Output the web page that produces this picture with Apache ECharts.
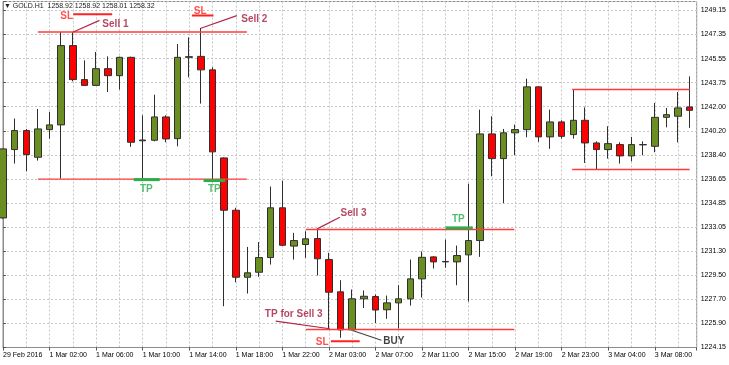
<!DOCTYPE html>
<html><head><meta charset="utf-8">
<script src="https://cdn.jsdelivr.net/npm/echarts@6/dist/echarts.min.js"></script>
<style>html,body{margin:0;padding:0;background:#fff}#c{width:729px;height:365px}</style>
</head><body><div id="c"></div>
<script>
// ---------- data ----------
const categories = ['29 Feb 2016','29 Feb 23:00','1 Mar 00:00','1 Mar 01:00','1 Mar 02:00','1 Mar 03:00','1 Mar 04:00','1 Mar 05:00','1 Mar 06:00','1 Mar 07:00',
  '1 Mar 08:00','1 Mar 09:00','1 Mar 10:00','1 Mar 11:00','1 Mar 12:00','1 Mar 13:00','1 Mar 14:00','1 Mar 15:00','1 Mar 16:00','1 Mar 17:00',
  '1 Mar 18:00','1 Mar 19:00','1 Mar 20:00','1 Mar 21:00','1 Mar 22:00','2 Mar 00:00','2 Mar 01:00','2 Mar 02:00','2 Mar 03:00','2 Mar 04:00',
  '2 Mar 05:00','2 Mar 06:00','2 Mar 07:00','2 Mar 08:00','2 Mar 09:00','2 Mar 10:00','2 Mar 11:00','2 Mar 12:00','2 Mar 13:00','2 Mar 14:00',
  '2 Mar 15:00','2 Mar 16:00','2 Mar 17:00','2 Mar 18:00','2 Mar 19:00','2 Mar 20:00','2 Mar 21:00','2 Mar 22:00','2 Mar 23:00','3 Mar 01:00',
  '3 Mar 02:00','3 Mar 03:00','3 Mar 04:00','3 Mar 05:00','3 Mar 06:00','3 Mar 07:00','3 Mar 08:00','3 Mar 09:00','3 Mar 10:00','3 Mar 11:00'];

const openPrices = [1233.76,1238.83,1240.24,1238.26,1240.31,1240.66,1246.54,1244.02,1243.59,1244.83,
  1244.31,1245.67,1239.48,1239.52,1241.25,1239.64,1245.67,1245.74,1244.74,1238.21,
  1234.33,1229.36,1229.73,1230.82,1234.51,1231.67,1231.79,1232.23,1230.67,1228.28,
  1225.46,1227.76,1227.93,1226.95,1227.46,1227.76,1229.24,1230.87,1230.50,1230.50,
  1231.02,1232.08,1239.99,1238.16,1240.07,1240.31,1243.48,1239.77,1240.88,1239.94,
  1241.00,1239.32,1238.83,1239.20,1238.36,1239.18,1239.07,1241.22,1241.30,1241.99];
const closePrices = [1238.88,1240.24,1238.46,1240.36,1240.66,1246.54,1244.02,1243.59,1244.83,1244.31,
  1245.67,1239.37,1239.54,1241.25,1239.62,1245.67,1245.72,1244.74,1238.66,1234.33,
  1229.36,1229.69,1230.82,1234.51,1231.73,1232.08,1232.21,1230.73,1228.25,1225.46,
  1227.76,1227.95,1226.93,1227.46,1227.76,1229.24,1230.84,1230.50,1230.53,1230.97,
  1232.08,1239.99,1238.16,1240.07,1240.31,1243.48,1239.77,1240.88,1239.81,1241.00,
  1239.32,1238.83,1239.27,1238.36,1239.20,1239.20,1241.22,1241.42,1241.92,1241.74];
const lowPrices = [1233.70,1237.79,1237.22,1238.01,1239.64,1236.68,1243.89,1243.55,1243.57,1243.10,
  1243.28,1239.03,1236.60,1239.44,1239.37,1239.07,1244.19,1242.24,1236.53,1227.21,
  1228.99,1228.15,1229.39,1230.30,1231.70,1230.67,1230.80,1229.49,1225.48,1224.87,
  1225.41,1227.08,1225.97,1226.28,1225.56,1227.26,1227.86,1230.01,1230.06,1228.77,
  1227.56,1230.87,1236.85,1234.86,1238.41,1239.74,1239.40,1238.88,1239.64,1239.64,
  1237.84,1237.35,1238.16,1237.79,1237.96,1238.41,1238.63,1240.48,1239.37,1240.44];
const highPrices = [1238.90,1241.13,1240.36,1241.84,1241.62,1247.55,1247.55,1245.45,1246.07,1245.74,
  1245.72,1245.72,1241.37,1242.90,1241.37,1246.66,1247.15,1247.85,1244.93,1238.25,
  1234.51,1231.61,1231.97,1236.09,1236.53,1232.65,1232.77,1232.95,1231.17,1229.14,
  1228.45,1228.38,1228.08,1228.00,1228.77,1230.67,1231.27,1230.93,1232.16,1231.71,
  1236.29,1241.79,1241.30,1240.36,1240.68,1244.09,1243.50,1241.79,1241.00,1243.28,
  1241.96,1239.44,1240.56,1239.37,1239.77,1239.44,1242.29,1241.92,1243.10,1244.26];

const priceTickLabels = ['1224.15','1225.90','1227.70','1229.50','1231.30','1233.05','1234.85','1236.65',
  '1238.40','1240.20','1242.00','1243.75','1245.55','1247.35','1249.15'];
const priceAxisMin = 1224.15;
const priceAxisStep = 25 / 14;          // one grid step of the price scale
const headerText = '\u25BC GOLD.H1  1258.92 1258.92 1258.01 1258.32';

// horizontal trade levels: [fromBar, toBar, price]
const levelLines = [
  [3.0, 20.95, 1247.55], [3.0, 20.95, 1236.64],
  [26.03, 43.93, 1232.90], [26.03, 43.93, 1225.48],
  [48.9, 59.0, 1243.28], [48.9, 59.0, 1237.35]
];
// stop-loss markers: [fromBar, toBar, price]
const slMarks = [[6.04, 9.38, 1248.86], [16.23, 18.08, 1248.77], [28.17, 30.65, 1224.62]];
// take-profit markers: [fromBar, toBar, price]
const tpMarks = [[11.23, 13.46, 1236.60], [17.23, 19.09, 1236.53], [38.02, 40.36, 1233.02]];
// callout leaders: [bar1, price1, bar2, price2]
const calloutLines = [
  [6.04, 1247.55, 8.29, 1248.41], [17.0, 1247.83, 20.09, 1248.76],
  [26.99, 1232.95, 28.94, 1233.81], [23.43, 1226.10, 28.08, 1225.54]
];
const buyCallout = [[30.03, 1225.41, 32.51, 1224.69]];
// text notes
const noteTexts = ['SL','Sell 1','SL','Sell 2','TP','TP','Sell 3','TP','TP for Sell 3','SL','BUY'];
const noteBars  = [5.47, 9.66, 16.94, 21.59, 12.32, 18.16, 30.12, 39.12, 24.98, 27.42, 33.58];
const notePrices = [1248.71, 1248.15, 1249.08, 1248.46, 1235.86, 1235.86, 1234.14, 1233.64, 1226.65, 1224.57, 1224.62];
const noteKinds = ['sl','sell','sl','sell','tp','tp','sell','tp','sell','sl','buy'];

// ---------- chart ----------
const X_MAX = 59.6;
const Y_IDX_MAX = 14.37;
const priceMax = priceAxisMin + Y_IDX_MAX * priceAxisStep;
const axisFont = '"Liberation Sans",Arial,sans-serif';
const kindColor = { sl: '#ff2222', sell: '#a3193c', tp: '#2aae4a', buy: '#111111' };

// one plain line series per segment, drawn through the price/bar axes
function segmentSeries(list, color, width, four, z) {
  return list.map((a) => ({
    type: 'line', xAxisIndex: 0, yAxisIndex: 0, silent: true, z: z,
    showSymbol: false, symbol: 'none', animation: false,
    lineStyle: { color: color, width: width, opacity: 1 },
    itemStyle: { color: color },
    data: four ? [[a[0], a[1]], [a[2], a[3]]] : [[a[0], a[2]], [a[1], a[2]]]
  }));
}

const chart = echarts.init(document.getElementById('c'), null, { renderer: 'canvas' });
chart.setOption({
  animation: false,
  backgroundColor: '#ffffff',
  title: {
    text: headerText, left: 4, top: 3, padding: 0,
    textStyle: { fontSize: 7, fontWeight: 'normal', color: '#222', fontFamily: axisFont }
  },
  grid: { left: 2, right: 31.5, top: 1.5, bottom: 17.5, show: true, borderColor: '#8c8c8c', borderWidth: 1 },
  xAxis: [
    {
      type: 'value', min: 0, max: X_MAX, interval: 4, position: 'bottom',
      axisLine: { show: true, onZero: false, lineStyle: { color: '#8c8c8c' } },
      axisTick: { show: true, length: 3, lineStyle: { color: '#555' } },
      axisLabel: {
        show: true, margin: 4, align: 'left', fontSize: 7, color: '#000', fontFamily: axisFont,
        showMinLabel: true, showMaxLabel: true,
        formatter: (v) => {
          const r = Math.round(v);
          return (Math.abs(v - r) < 1e-6 && r % 4 === 0 && categories[r]) ? categories[r] : '';
        }
      },
      splitLine: { show: false }
    },
    {
      type: 'value', min: 0, max: X_MAX, interval: 2, position: 'top',
      axisLine: { show: false }, axisTick: { show: false }, axisLabel: { show: false },
      splitLine: { show: true, lineStyle: { color: '#c6c6c6', type: [2, 2], width: 1 } }
    }
  ],
  yAxis: [
    { type: 'value', min: priceAxisMin, max: priceMax, show: false, scale: true },
    {
      type: 'value', min: 0, max: Y_IDX_MAX, interval: 1, position: 'right',
      axisLine: { show: true, lineStyle: { color: '#8c8c8c' } },
      axisTick: { show: true, length: 3, lineStyle: { color: '#555' } },
      axisLabel: {
        show: true, margin: 4, fontSize: 7, color: '#000', fontFamily: axisFont,
        formatter: (v) => {
          const r = Math.round(v);
          return (Math.abs(v - r) < 1e-6 && priceTickLabels[r]) ? priceTickLabels[r] : '';
        }
      },
      splitLine: { show: true, lineStyle: { color: '#c6c6c6', type: [2, 2], width: 1 } }
    }
  ],
  series: [
    {
      type: 'candlestick', xAxisIndex: 0, yAxisIndex: 0, barWidth: 7, clip: true, z: 2,
      data: categories.map((c, i) => [i, openPrices[i], closePrices[i], lowPrices[i], highPrices[i]]),
      itemStyle: { color: '#6b8e23', color0: '#ff0000', borderColor: '#2f2f2f', borderColor0: '#2f2f2f', borderWidth: 1 }
    }
  ].concat(
    segmentSeries(levelLines, '#ff3b3b', 1.4, false, 3),
    segmentSeries(calloutLines, '#b0284a', 1.2, true, 3),
    segmentSeries(buyCallout, '#444444', 1.2, true, 3),
    segmentSeries(slMarks, '#ff2222', 2, false, 4),
    segmentSeries(tpMarks, '#2aae4a', 3, false, 4),
    [{
      type: 'scatter', xAxisIndex: 0, yAxisIndex: 0, silent: true, symbolSize: 0, z: 5,
      itemStyle: { color: 'transparent' },
      data: noteTexts.map((t, i) => ({
        value: [noteBars[i], notePrices[i]],
        name: t,
        label: { color: kindColor[noteKinds[i]] }
      })),
      label: {
        show: true, position: 'inside', formatter: (p) => p.name,
        fontSize: 10, fontWeight: 'bold', fontFamily: '"Liberation Sans",Arial,sans-serif'
      }
    }]
  )
});
</script></body></html>
